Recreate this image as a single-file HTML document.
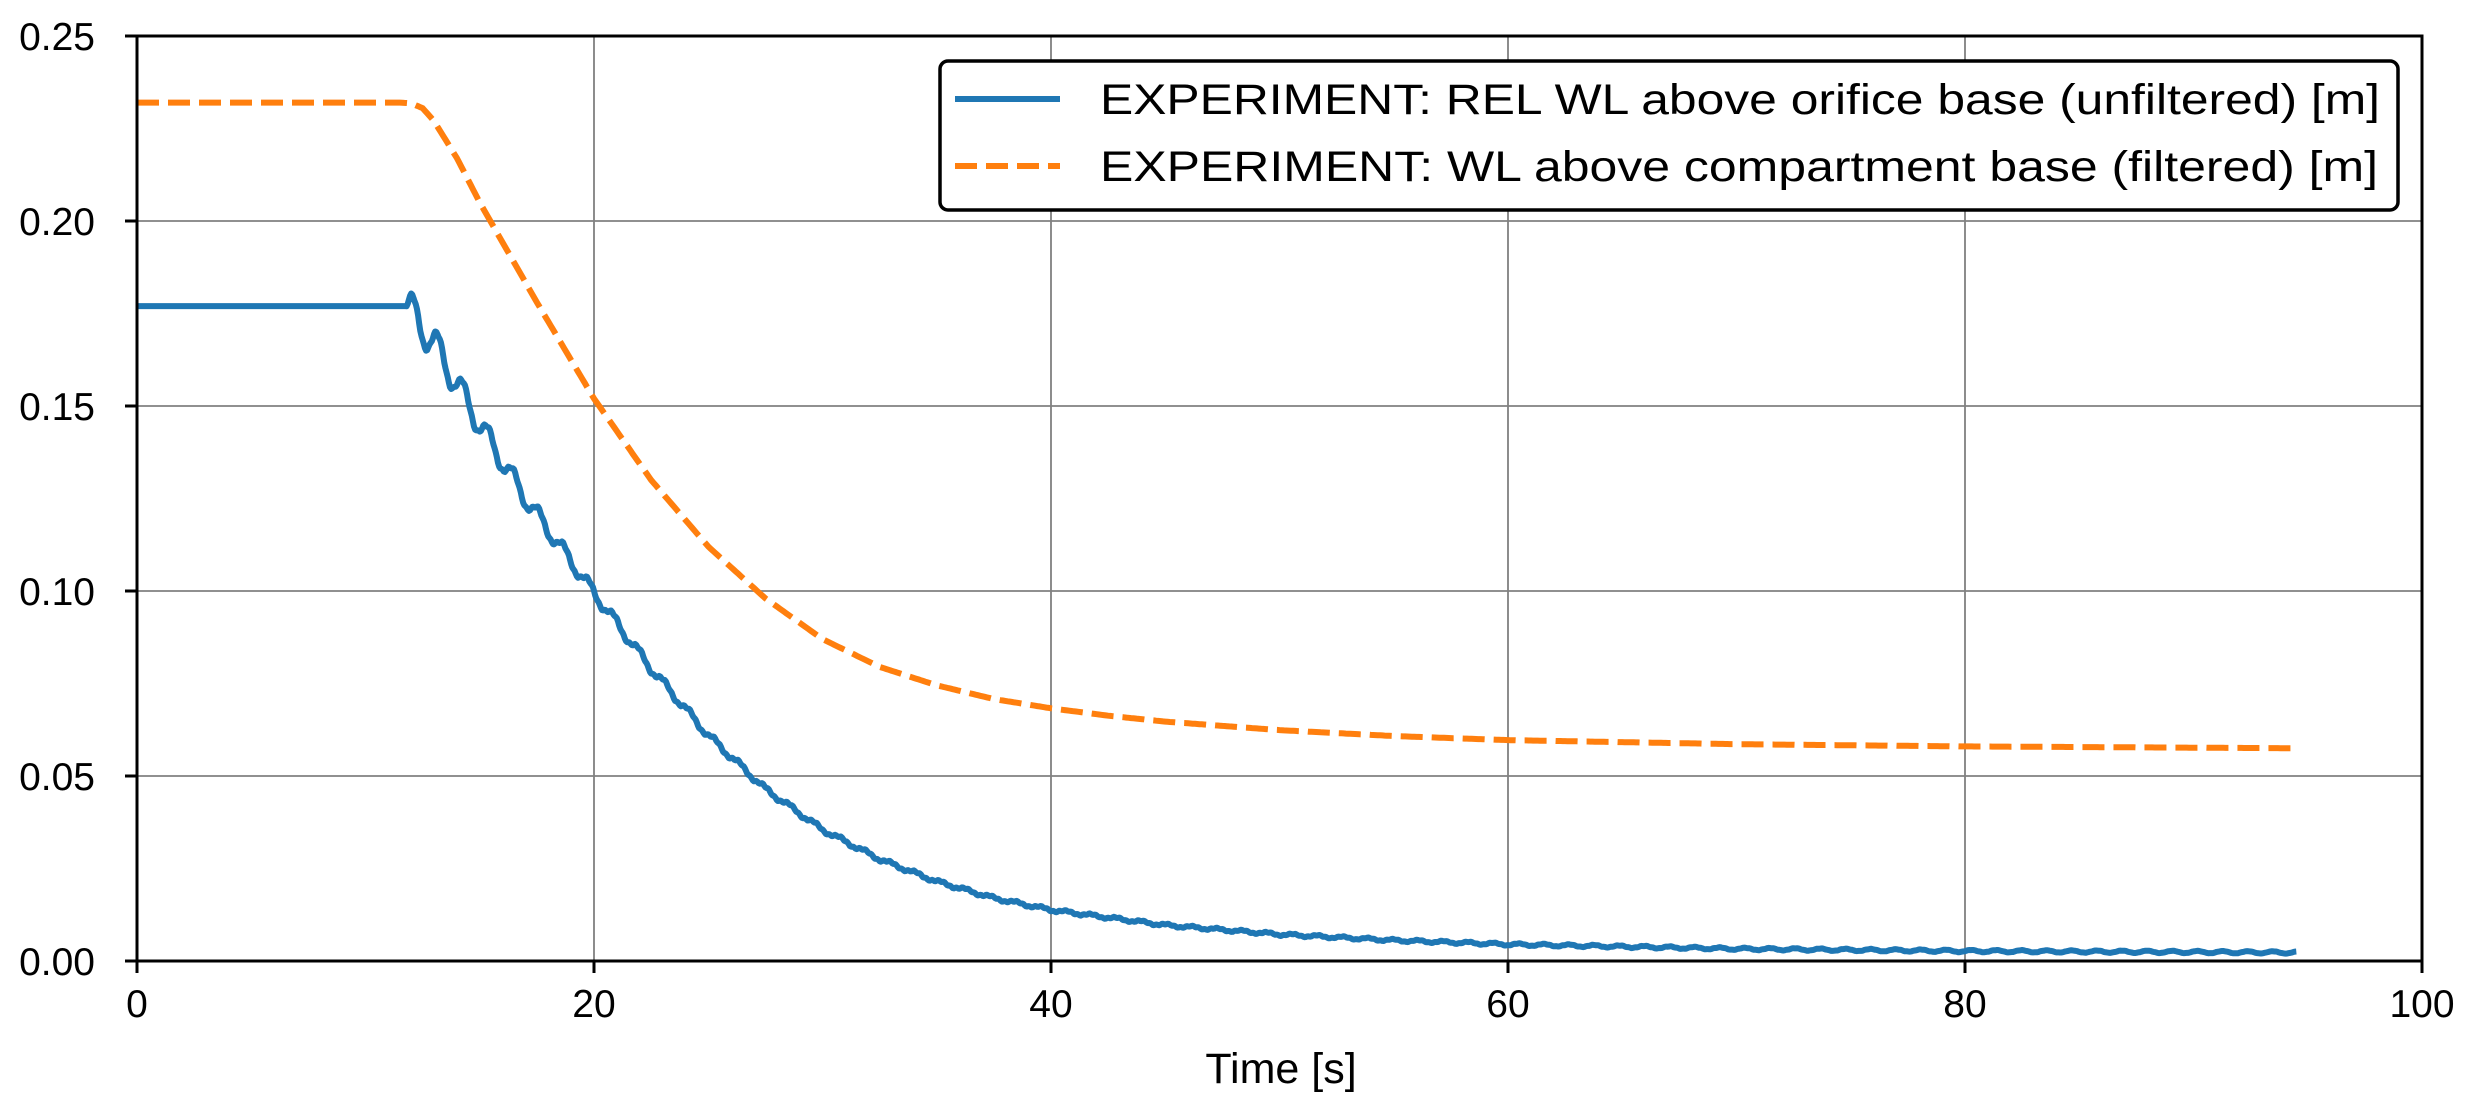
<!DOCTYPE html>
<html><head><meta charset="utf-8"><style>
html,body{margin:0;padding:0;background:#fff;}
svg{display:block;font-family:"Liberation Sans",Arial,sans-serif;}
</style></head><body>
<svg id="s" width="2481" height="1117" viewBox="0 0 2481 1117" xmlns="http://www.w3.org/2000/svg">
<rect width="2481" height="1117" fill="#fff"/>
<g id="grid" stroke="#808080" stroke-width="1.8"></g>
<g id="ticks" font-size="39" fill="#000"></g>
<path id="blue" fill="none" stroke="#1f77b4" stroke-width="6" stroke-linejoin="round"/>
<path id="orange" fill="none" stroke="#ff7f0e" stroke-width="6" stroke-dasharray="22,9"/>
<rect x="137" y="36" width="2285" height="925" fill="none" stroke="#000" stroke-width="3"/>
<g>
<rect x="940" y="61" width="1458" height="149" rx="8" fill="#fff" stroke="#000" stroke-width="3.5"/>
<line x1="955" y1="99" x2="1060" y2="99" stroke="#1f77b4" stroke-width="6"/>
<line x1="955" y1="166" x2="1060" y2="166" stroke="#ff7f0e" stroke-width="6" stroke-dasharray="22,9"/>
<text x="1100" y="114" font-size="43" textLength="1280" lengthAdjust="spacingAndGlyphs">EXPERIMENT: REL WL above orifice base (unfiltered) [m]</text>
<text x="1100" y="181" font-size="43" textLength="1278" lengthAdjust="spacingAndGlyphs">EXPERIMENT: WL above compartment base (filtered) [m]</text>
</g>
<text x="1281" y="1083" font-size="43" text-anchor="middle">Time [s]</text>
</svg>
<script>
var L=137,R=2422,T=36,B=961;
function X(t){return L+(R-L)*t/100;}
function Y(v){return B-(B-T)*v/0.25;}
var ns="http://www.w3.org/2000/svg",g=document.getElementById('grid'),tk=document.getElementById('ticks');
function el(p,n,a,txt){var e=document.createElementNS(ns,n);for(var k in a)e.setAttribute(k,a[k]);if(txt!=null)e.textContent=txt;p.appendChild(e);return e;}
for(var i=0;i<=5;i++){var t=i*20,x=X(t);
 if(i>0&&i<5)el(g,'line',{x1:x,y1:T,x2:x,y2:B});
 el(tk,'line',{x1:x,y1:B,x2:x,y2:B+12,stroke:'#000','stroke-width':3});
 el(tk,'text',{x:x,y:B+56,'text-anchor':'middle'},String(t));}
for(var i=0;i<=5;i++){var v=i*0.05,y=Y(v);
 if(i>0&&i<5)el(g,'line',{x1:L,y1:y,x2:R,y2:y});
 el(tk,'line',{x1:L-12,y1:y,x2:L,y2:y,stroke:'#000','stroke-width':3});
 el(tk,'text',{x:L-42,y:y+14,'text-anchor':'end'},v.toFixed(2));}
function interp(pts,t){for(var i=1;i<pts.length;i++){if(t<=pts[i][0]){var a=pts[i-1],b=pts[i],f=(t-a[0])/(b[0]-a[0]);return a[1]+(b[1]-a[1])*f;}}return pts[pts.length-1][1];}
var op=[[0,.232],[11.5,.232],[12,.2318],[12.5,.2305],[13,.227],[14,.217],[15,.205],[17.5,.178],[20,.152],[22.5,.130],[25,.112],[27.5,.098],[30,.087],[32.5,.0795],[35,.0745],[37.5,.0708],[40,.0683],[42.5,.0663],[45,.0647],[50,.0624],[55,.0608],[60,.0597],[70,.0586],[80,.058],[94.5,.0575]];
var bp=[[0,.177],[11.8,.177],[13,.167],[15,.145],[17,.125],[20,.0995],[22.5,.079],[25,.061],[27.5,.0465],[30,.0355],[32.5,.0275],[35,.0215],[37.5,.017],[40,.0138],[45,.0097],[50,.0072],[55,.0056],[60,.0045],[70,.0033],[80,.0027],[94.5,.0023]];
var d='';for(var t=0;t<=94.5;t+=0.1){d+=(t?'L':'M')+X(t).toFixed(1)+','+Y(interp(op,t)).toFixed(1);}
document.getElementById('orange').setAttribute('d',d);
d='';for(var t=0;t<=94.5;t+=0.05){var v=interp(bp,t);
 if(t>11.8){var age=t-11.8,amp=0.005*Math.exp(-age/6)+0.0003;v+=amp*Math.sin(age*2*Math.PI/1.1)+0.0004*Math.sin(t*23.7)*Math.exp(-age/30);}
 d+=(t?'L':'M')+X(t).toFixed(1)+','+Y(v).toFixed(1);}
document.getElementById('blue').setAttribute('d',d);
</script>
</body></html>
